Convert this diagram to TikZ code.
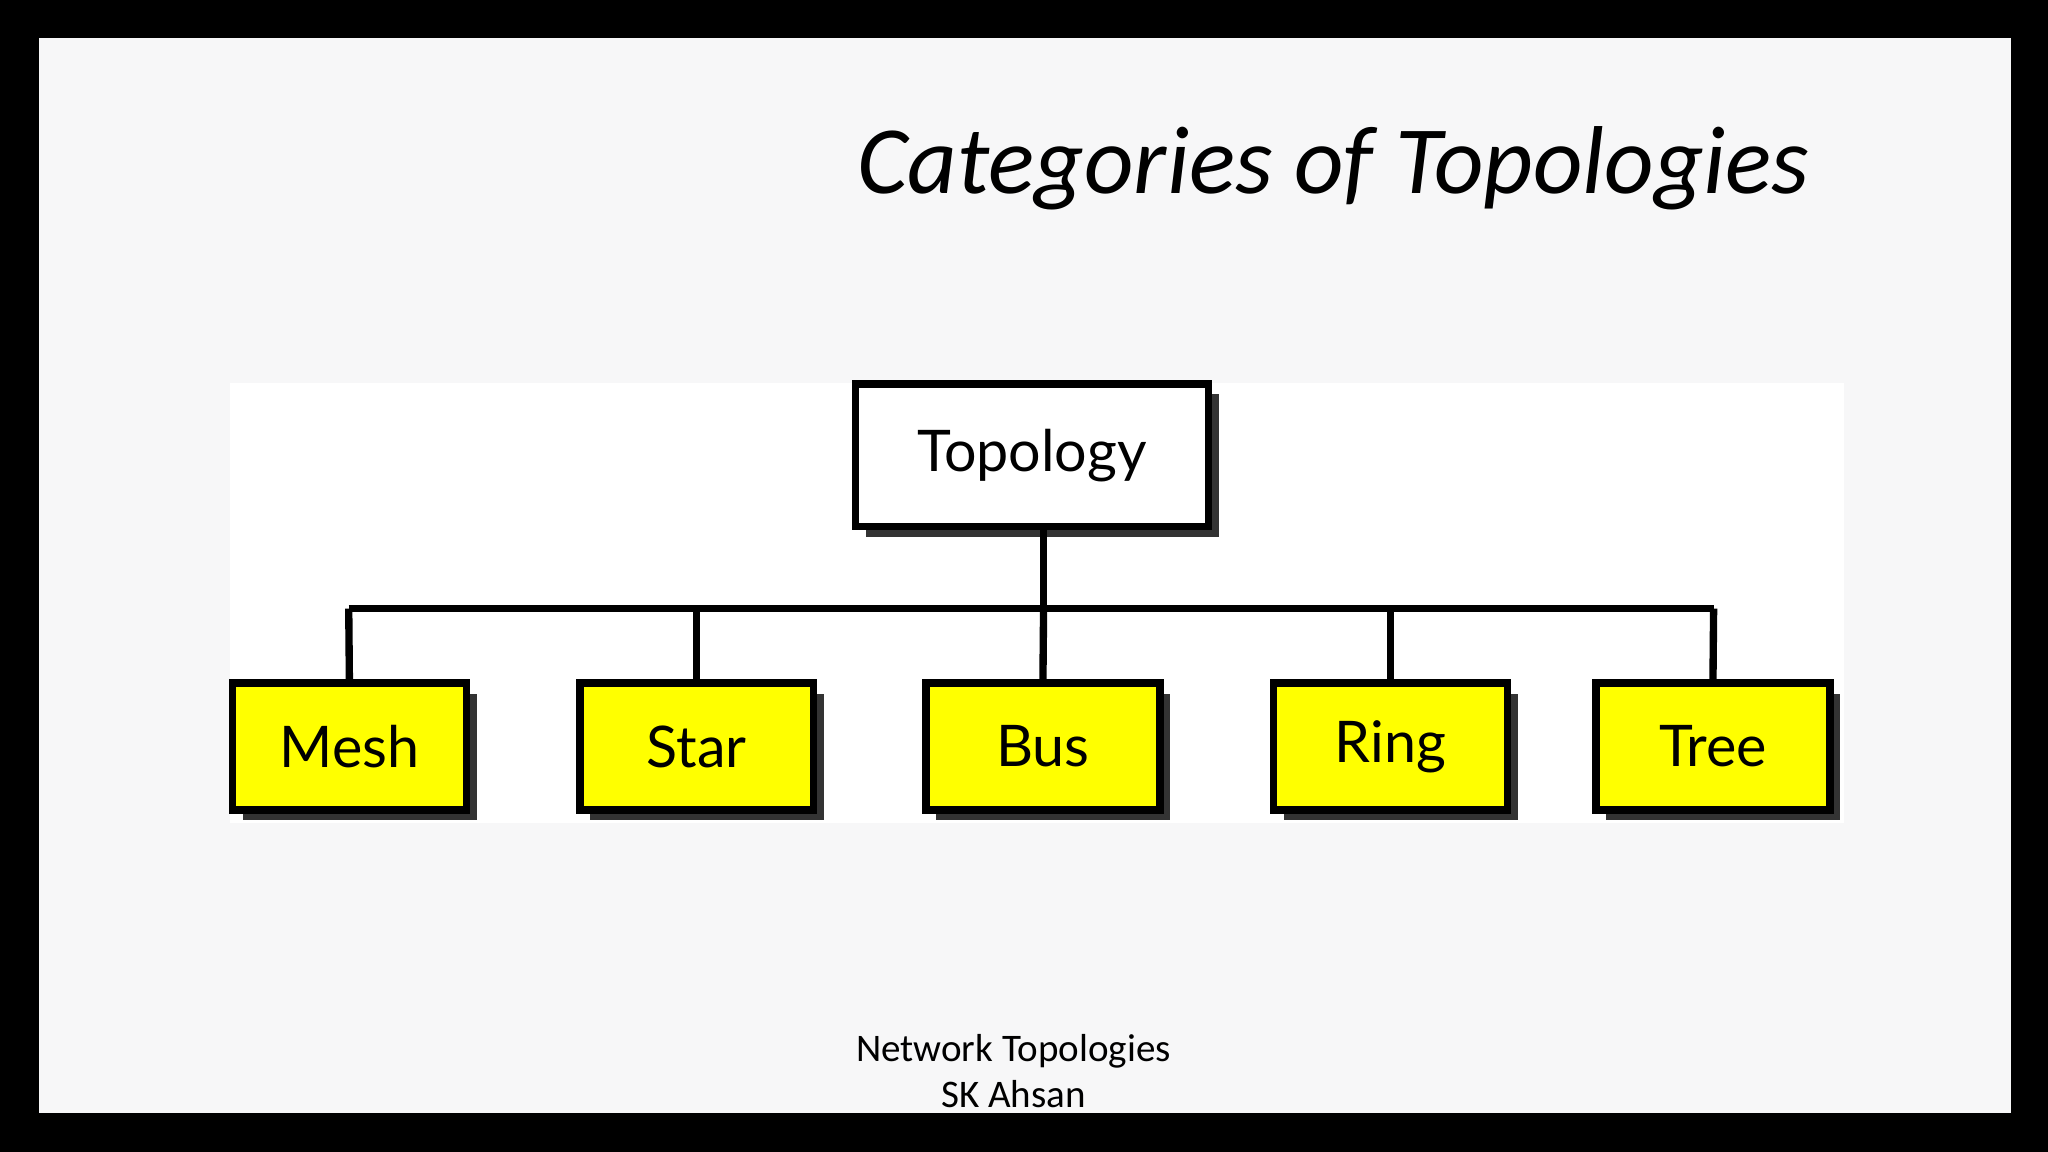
\documentclass[tikz,border=0pt]{standalone}
\usepackage{fontspec}
\setmainfont{Carlito}
\newfontfamily\boxfont{Lato}
\definecolor{slide}{HTML}{F7F7F8}
\definecolor{shade}{HTML}{333333}
\definecolor{yel}{HTML}{FFFF00}
\tikzset{
 boxstyle/.style={draw=black,line width=1.6pt,minimum width=1.79cm,minimum height=0.97cm,inner sep=0pt,font=\boxfont\fontsize{12.5}{14}\selectfont,
   drop shadow={shadow xshift=0.08cm,shadow yshift=-0.08cm,fill=shade,opacity=1}},
 leaf/.style={boxstyle,fill=yel},
 conn/.style={line width=1.6pt}
}
\usetikzlibrary{shadows}
\begin{document}
\begin{tikzpicture}[x=0.01cm,y=-0.01cm]
\fill[black] (0,0) rectangle (1568,882);
\fill[slide] (30,29) rectangle (1540,852);
\fill[white] (176,293) rectangle (1412,630);
\node[anchor=base east,font=\itshape\fontsize{21}{24}\selectfont] (title) at (1398,148) {Categories of Topologies};
\node[boxstyle,fill=white,minimum width=2.7cm,minimum height=1.09cm] (top) at (790,348.5) {Topology};
\node[leaf] (mesh) at (267.5,571.5) {Mesh};
\node[leaf] (star) at (533.5,571.5) {Star};
\node[leaf] (bus) at (798.5,571.5) {Bus};
\node[leaf] (ring) at (1064.5,571.5) {Ring};
\node[leaf] (tree) at (1311.5,571.5) {Tree};
\coordinate (j) at (799,466);
\coordinate (jl) at (267,466);
\coordinate (jr) at (1312,466);
\draw[conn] (top.south -| j) -- (j);
\draw[conn] (jl) -- (jr);
\draw[conn] (jl) -- (mesh.north);
\draw[conn] (star.north) -- (star.north |- j);
\draw[conn] (j) -- (bus.north);
\draw[conn] (ring.north) -- (ring.north |- j);
\draw[conn] (jr) -- (tree.north);
\node[align=center,font=\fontsize{8.5}{10}\selectfont] (foot) at (776,820) {Network Topologies\\SK Ahsan};
\end{tikzpicture}
\end{document}
